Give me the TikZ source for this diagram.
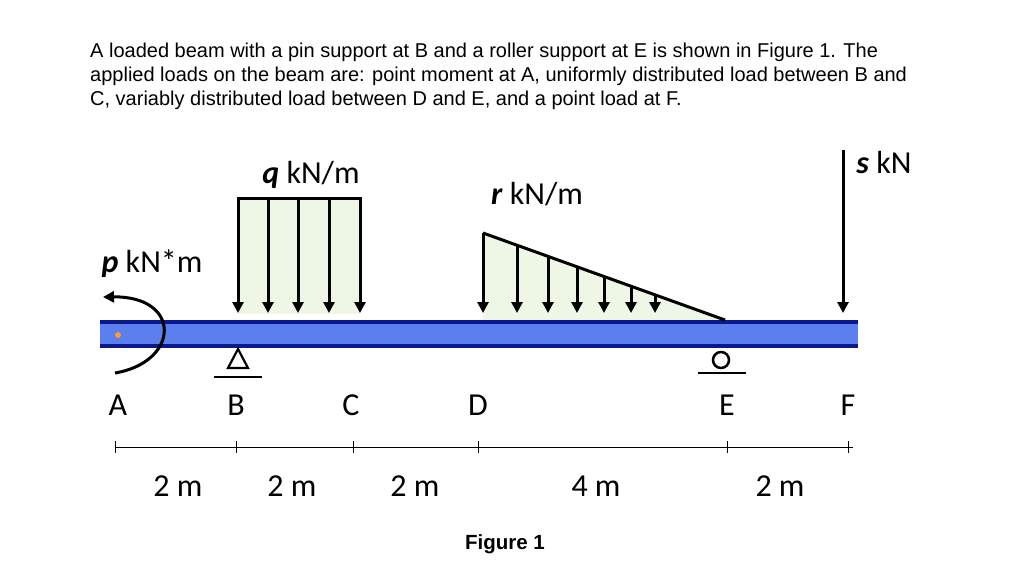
\documentclass[tikz,border=0pt]{standalone}
\usepackage{fontspec}
\setmainfont{Carlito}
\newfontfamily\arial{Liberation Sans}
\usetikzlibrary{arrows.meta}
\definecolor{bdark}{HTML}{0A1A8C}
\definecolor{blight}{HTML}{5B7FEF}
\definecolor{gfill}{HTML}{EEF6E6}
\begin{document}
\begin{tikzpicture}[x=1pt,y=-1pt,
  ld/.style={line width=3pt,-{Triangle[length=11pt,width=11pt]}},
  lbl/.style={font=\fontsize{32}{38}\selectfont},
  txt/.style={font=\arial\fontsize{20}{24}\selectfont,anchor=west,inner sep=0}]
\useasboundingbox (0,0) rectangle (1024,568);
\node[txt] (t1) at (90,52) {A loaded beam with a pin support at B and a roller support at E is shown in Figure 1. The};
\node[txt] (t2) at (90,76) {applied loads on the beam are: point moment at A, uniformly distributed load between B and};
\node[txt] (t3) at (90,100) {C, variably distributed load between D and E, and a point load at F.};
% loads fills
\fill[gfill] (238,198) rectangle (360,314);
\fill[gfill] (483,233) -- (725,320) -- (483,320) -- cycle;
% beam
\fill[blight] (100,323) rectangle (858,345);
\draw[bdark,line width=4.5pt] (100,322) -- (858,322) (100,346) -- (858,346);
\fill[orange!80] (118,335) circle (3);
% UDL
\draw[line width=3pt] (236.5,198) -- (361.5,198);
\foreach \x in {238,268,298,329,360} \draw[ld] (\x,198) -- (\x,313);
\node[lbl] (q) at (311,175) {\textbf{\textit{q}} kN/m};
% triangle
\draw[line width=3pt] (483,233) -- (725,320);
\foreach \x in {483,517,548,577,604,631,655} \draw[ld] (\x,{233+(\x-483)*87/242}) -- (\x,313);
\node[lbl] (r) at (537,194) {\textbf{\textit{r}} kN/m};
% point load
\draw[ld] (843,150) -- (843,313);
\node[lbl] (s) at (884,163) {\textbf{\textit{s}} kN};
% moment
\draw[line width=3pt,-{Triangle[length=11pt,width=11pt]}] (115,373) .. controls (180,362) and (182,296) .. (103,297);
\node[lbl] (p) at (152,264) {\textbf{\textit{p}} kN*m};
% supports
\draw[line width=2.2pt] (238,349) -- (228,368) -- (248,368) -- cycle;
\draw[line width=1.6pt] (214,377) -- (262,377);
\draw[line width=2.5pt] (721,360) circle (8);
\draw[line width=1.6pt] (698,373) -- (746,373);
% point labels
\foreach \n/\x in {A/118,B/236,C/351,D/478,E/727,F/848} \node[lbl] (\n) at (\x,405) {\n};
% dimension line
\draw[line width=1pt] (115,447) -- (853,447);
\foreach \x in {115,236,353,478,727,848} \draw[line width=1pt] (\x,441) -- (\x,453);
\foreach \x/\t [count=\i] in {178/2 m,292/2 m,415/2 m,596/4 m,780/2 m} \node[lbl] (d\i) at (\x,486) {\t};
\node[font=\arial\bfseries\fontsize{20.5}{24}\selectfont] (fig) at (505,544) {Figure 1};
\end{tikzpicture}
\end{document}
